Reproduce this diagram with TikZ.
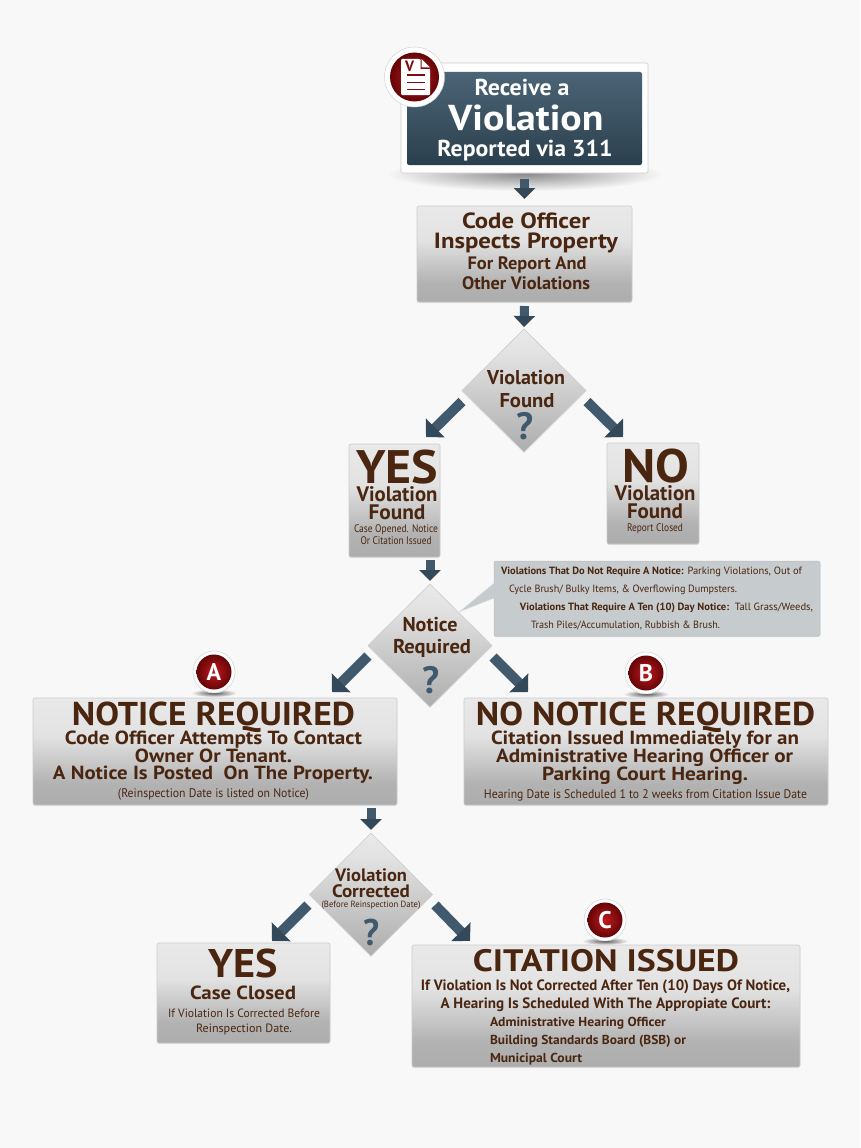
\documentclass[tikz,border=0pt]{standalone}
\usepackage{fontspec}
\usepackage{graphicx}
\setmainfont{PT Sans}
\usetikzlibrary{arrows.meta,shapes.geometric,shadows,calc}
\definecolor{bgc}{HTML}{F8F8F8}
\definecolor{brownc}{HTML}{4A2610}
\definecolor{arrowc}{HTML}{41596C}
\definecolor{tipc}{HTML}{33495A}
\definecolor{qc}{HTML}{3F5A6E}
\definecolor{gA}{HTML}{ADADAD}
\definecolor{gB}{HTML}{B2B2B2}
\definecolor{gC}{HTML}{E2E2E2}
\definecolor{gD}{HTML}{E9E9E9}
\definecolor{dkA}{HTML}{2B404E}
\definecolor{dkB}{HTML}{4B6476}
\definecolor{redA}{HTML}{C0191F}
\definecolor{redB}{HTML}{640507}
\definecolor{calloutc}{HTML}{C6CBCE}
\pgfdeclareverticalshading{boxs}{100bp}{color(0bp)=(gA); color(25bp)=(gA); color(35bp)=(gB); color(57bp)=(gC); color(75bp)=(gD); color(100bp)=(gD)}
\pgfdeclareverticalshading{diams}{100bp}{color(0bp)=(gA); color(25bp)=(gA); color(65bp)=(gC); color(75bp)=(gD); color(100bp)=(gD)}
\pgfdeclareverticalshading{darks}{100bp}{color(0bp)=(dkA); color(25bp)=(dkA); color(75bp)=(dkB); color(100bp)=(dkB)}
\newcounter{tlc}
\newcommand{\tl}[6][]{\stepcounter{tlc}\node[tline,#1] (t\arabic{tlc}) at (#2,#3) {\resizebox{#5pt}{\height}{\fontsize{#4}{#4}\selectfont #6}};}
\tikzset{
  fbox/.style={rectangle,rounded corners=2pt,shading=boxs,draw=gray!40,line width=.6pt,inner sep=0,outer sep=0,
    drop shadow={opacity=.15,shadow xshift=0pt,shadow yshift=-1.2pt}},
  fdiam/.style={diamond,aspect=1,shading=diams,draw=gray!40,line width=.6pt,inner sep=0,outer sep=0,
    drop shadow={opacity=.12,shadow xshift=0pt,shadow yshift=-1.2pt}},
  darrow/.style={draw=arrowc,line width=9pt,-{Triangle[length=11pt,width=21pt,color=tipc]}},
  barrow/.style={draw=arrowc,line width=10pt,-{Triangle[length=13pt,width=26pt,color=tipc]}},
  tline/.style={anchor=base,inner sep=0,outer sep=0,font=\bfseries,text=brownc},
  reg/.style={font=\mdseries},
  wht/.style={text=white},
  qmark/.style={text=qc},
  badgeout/.style={circle,fill=white,draw=gray!35,line width=.5pt,inner sep=0,outer sep=0},
  badgein/.style={circle,shading=radial,inner color=redA,outer color=redB,inner sep=0,outer sep=0,text=white,font=\bfseries\fontsize{24}{24}\selectfont},
  softsh/.style={shading=radial,inner color=black!65,outer color=bgc,draw=none},
  softhead/.style={shading=radial,inner color=black!45,outer color=bgc,draw=none}
}
\begin{document}
\begin{tikzpicture}[x=1pt,y=-1pt]
\fill[bgc] (0,0) rectangle (860,1148);
\useasboundingbox (0,0) rectangle (860,1148);

% header shadow and box
\shade[softhead] (524.5,174) ellipse [x radius=138,y radius=17];
\node[rectangle,rounded corners=2pt,fill=white,draw=gray!40,line width=.6pt,inner sep=0,outer sep=0,minimum width=247pt,minimum height=110pt] (b1o) at (524.5,118) {};
\node[rectangle,rounded corners=2pt,shading=darks,inner sep=0,outer sep=0,minimum width=235pt,minimum height=93pt] (b1) at (524.5,118.5) {};

% boxes
\node[fbox,minimum width=215pt,minimum height=96pt] (b2) at (524.5,254) {};
\node[fdiam,minimum width=124pt,minimum height=123pt] (d1) at (524,390.5) {};
\node[fbox,minimum width=91pt,minimum height=113pt] (yes) at (394.5,500.5) {};
\node[fbox,minimum width=92pt,minimum height=101pt] (no) at (653,493.5) {};
\node[fdiam,minimum width=124pt,minimum height=123pt] (d2) at (430,645.5) {};
\node[rectangle,rounded corners=1.5pt,fill=calloutc,draw=gray!50,line width=.5pt,inner sep=0,outer sep=0,minimum width=326pt,minimum height=75pt,
  drop shadow={opacity=.25,shadow xshift=0pt,shadow yshift=-1.2pt}] (co) at (657,598.5) {};
\fill[calloutc] ($(co.north west)+(.5,22)$) -- ($(d2.north)+(29,28)$) -- ($(co.north west)+(.5,37)$) -- cycle;
\draw[gray!25,line width=.5pt] ($(co.north west)+(0,22)$) -- ($(d2.north)+(29,28)$) -- ($(co.north west)+(0,37)$);
\node[fbox,minimum width=364pt,minimum height=107pt] (nr) at (215,751.5) {};
\node[fbox,minimum width=364pt,minimum height=107pt] (nn) at (646,751.5) {};
\node[fdiam,minimum width=123pt,minimum height=123pt] (d3) at (371,894.5) {};
\node[fbox,minimum width=173pt,minimum height=100pt] (yc) at (243.5,993) {};
\node[fbox,minimum width=388pt,minimum height=122pt] (ci) at (606,1006) {};

% connectors
\draw[darrow,shorten <=6pt,shorten >=7pt] (b1o.south) -- (b2.north);
\draw[darrow,shorten <=4pt,shorten >=2pt] (b2.south) -- (d1.north);
\draw[darrow,shorten <=3pt,shorten >=3pt] (yes.south -| d2.north) -- (d2.north);
\draw[darrow,shorten <=3pt,shorten >=3pt] (nr.south -| d3.north) -- (d3.north);
\draw[barrow] ($(d1.west)+(0,11)$) -- ($(yes.north east)+(-14,-7)$);
\draw[barrow] ($(d1.east)+(1,11)$) -- ($(no.north west)+(16,-6)$);
\draw[barrow] ($(d2.west)+(0,10.5)$) -- ($(nr.north east)+(-65,-6)$);
\draw[barrow] ($(d2.east)+(1,11.5)$) -- ($(nn.north west)+(64,-6)$);
\draw[barrow] ($(d3.west)+(-1.5,10.5)$) -- ($(yc.north)+(28.5,-2)$);
\draw[barrow] ($(d3.east)+(2.5,10.5)$) -- ($(ci.north west)+(58,-4)$);

% badges
\shade[softsh] (214,693) ellipse [x radius=23,y radius=4];
\shade[softsh] (646,694) ellipse [x radius=23,y radius=4];
\shade[softsh] (605,941) ellipse [x radius=23,y radius=4];
\node[badgeout,minimum size=42pt] (bao) at (214,672) {};
\node[badgein,minimum size=35pt] (ba) at (214,672) {A};
\node[badgeout,minimum size=42pt] (bbo) at (646,673) {};
\node[badgein,minimum size=35pt] (bb) at (646,673) {B};
\node[badgeout,minimum size=42pt] (bco) at (605,920) {};
\node[badgein,minimum size=35pt] (bc) at (605,920) {C};

% main badge with document icon
\node[badgeout,minimum size=60pt] (bmo) at (414.5,77) {};
\node[badgein,minimum size=49pt] (bm) at (414.5,77) {};
\fill[white,rounded corners=1pt] (401,59) -- (420,59) -- (430,69) -- (430,95) -- (401,95) -- cycle;
\fill[redB!70!redA] (420.5,59) -- (420.5,69) -- (430,69) -- cycle;
\fill[white] (421.7,59) -- (430,67.5) -- (421.7,67.5) -- cycle;
\draw[redB!70!redA,line width=1.7pt] (407,75) -- (425,75) (407,82.5) -- (425,82.5) (407,89.5) -- (425,89.5);
\tl[text=redB!70!redA]{409.5}{71.5}{15}{9}{V}

% header text
\tl[wht]{522}{95}{23}{95}{Receive a}
\tl[wht]{526}{130}{36}{155}{Violation}
\tl[wht]{525}{156}{23}{175}{Reported via 311}

\tl{526}{228}{22}{128}{Code Officer}
\tl{526}{248}{22}{184}{Inspects Property}
\tl{527}{269}{18}{119}{For Report And}
\tl{526}{289}{18}{128}{Other Violations}

\tl{526}{384}{20}{78}{Violation}
\tl{527}{407}{20}{55}{Found}
\tl[qmark]{525}{439}{38}{17}{?}

\tl{397}{483}{47}{82}{YES}
\tl{397}{501}{21}{81}{Violation}
\tl{397}{519}{21}{57}{Found}
\tl[reg]{396}{532}{11}{84}{Case Opened. Notice}
\tl[reg]{396}{544}{11}{71}{Or Citation Issued}

\tl{656}{482}{47}{67}{NO}
\tl{655}{500}{21}{81}{Violation}
\tl{655}{518}{21}{56}{Found}
\tl[reg]{655}{531}{11}{56}{Report Closed}

\tl{430}{631}{20}{55}{Notice}
\tl{432}{653}{20}{78}{Required}
\tl[qmark]{431}{693}{38}{17}{?}

\tl[reg]{651.5}{574}{10.5}{301}{{\bfseries Violations That Do Not Require A Notice:} Parking Violations, Out of}
\tl[reg]{623}{592}{10.5}{228}{Cycle Brush/ Bulky Items, \& Overflowing Dumpsters.}
\tl[reg]{666.5}{610}{10.5}{293}{{\bfseries Violations That Require A Ten (10) Day Notice:}\ \ Tall Grass/Weeds,}
\tl[reg]{625.5}{628}{10.5}{189}{Trash Piles/Accumulation, Rubbish \& Brush.}

\tl{213.5}{725.5}{33}{283}{NOTICE REQUIRED}
\tl{213.5}{744}{19}{297}{Code Officer Attempts To Contact}
\tl{213.5}{762}{19}{157}{Owner Or Tenant.}
\tl{213}{779}{19}{320}{A Notice Is Posted\ \ On The Property.}
\tl[reg]{213.5}{797}{12.5}{191}{(Reinspection Date is listed on Notice)}

\tl{645.5}{725.5}{33}{339}{NO NOTICE REQUIRED}
\tl{645}{744}{19}{308}{Citation Issued Immediately for an}
\tl{644.5}{762}{19}{297}{Administrative Hearing Officer or}
\tl{645}{780}{19}{206}{Parking Court Hearing.}
\tl[reg]{645.5}{798}{12.5}{323}{Hearing Date is Scheduled 1 to 2 weeks from Citation Issue Date}

\tl{371}{881}{18}{72}{Violation}
\tl{371}{897}{18}{78}{Corrected}
\tl[reg]{371}{907}{9}{99}{(Before Reinspection Date)}
\tl[qmark]{371}{945}{37}{16}{?}

\tl{243}{977}{40}{69.5}{YES}
\tl{243}{999}{19}{106}{Case Closed}
\tl[reg]{244}{1017}{12}{152}{If Violation Is Corrected Before}
\tl[reg]{244}{1032}{12}{96}{Reinspection Date.}

\tl{606}{971}{31}{266}{CITATION ISSUED}
\tl{605.5}{990}{15}{369}{If Violation Is Not Corrected After Ten (10) Days Of Notice,}
\tl{605.5}{1008}{15}{330}{A Hearing Is Scheduled With The Appropiate Court:}
\tl{578}{1026}{13}{176}{Administrative Hearing Officer}
\tl{588}{1044}{13}{196}{Building Standards Board (BSB) or}
\tl{536}{1062}{13}{92}{Municipal Court}
\end{tikzpicture}
\end{document}
